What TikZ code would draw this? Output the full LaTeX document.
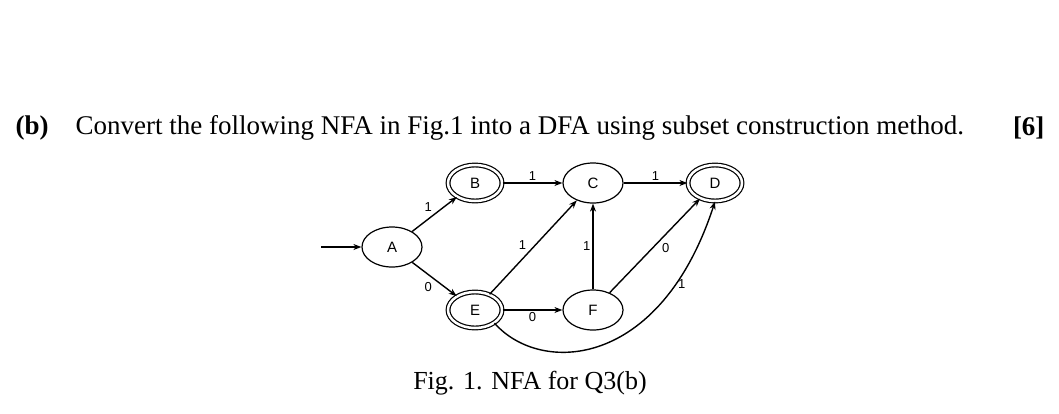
\documentclass[tikz,border=0pt]{standalone}
\usepackage{fontspec}
\setmainfont{Liberation Serif}
\newfontfamily\nodefont{Liberation Sans}
\usetikzlibrary{shapes.geometric,arrows.meta}
\begin{document}
\begin{tikzpicture}[x=1pt,y=-1pt,
  st/.style={ellipse,draw,line width=1.2pt,minimum width=60pt,minimum height=40pt,inner sep=0pt,font=\nodefont\fontsize{15}{15}\selectfont},
  acc/.style={st,double,double distance=2.5pt,minimum width=54pt,minimum height=36pt},
  tr/.style={-{Stealth[length=8pt,width=6pt]},line width=1.4pt},
  lb/.style={font=\nodefont\fontsize{13}{13}\selectfont,inner sep=2pt}]
\useasboundingbox (0,0) rectangle (1059,413);
\node[anchor=west,font=\bfseries\fontsize{27}{27}\selectfont] (b) at (12,128) {(b)};
\node[anchor=west,font=\fontsize{27}{27}\selectfont] (title) at (72,128) {Convert the following NFA in Fig.1 into a DFA using subset construction method.};
\node[anchor=east,font=\bfseries\fontsize{27}{27}\selectfont] (mark) at (1048,128) {[6]};
\node[st] (A) at (392,247) {A};
\node[acc] (B) at (475,183) {B};
\node[st] (C) at (593,183) {C};
\node[acc] (D) at (715,183) {D};
\node[acc] (E) at (475,310) {E};
\node[st] (F) at (593,310) {F};
\coordinate (s) at (321,247);
\draw[tr] (s) -- (A);
\draw[tr] (A) -- node[lb,above left] {1} (B);
\draw[tr] (A) -- node[lb,below left] {0} (E);
\draw[tr] (B) -- node[lb,above] {1} (C);
\draw[tr] (C) -- node[lb,above] {1} (D);
\draw[tr] (E) -- node[lb,above left,pos=0.45] {1} (C);
\draw[tr] (E) -- node[lb,below] {0} (F);
\draw[tr] (F) -- node[lb,left] {1} (C);
\draw[tr] (F) -- node[lb,below right,pos=0.55] {0} (D);
\draw[tr] (E.south east) .. controls (540,375) and (660,370) .. node[lb,right,pos=0.8] {1} (D.south);
\node[font=\fontsize{26}{26}\selectfont] (cap) at (530,383) {Fig. 1. NFA for Q3(b)};
\end{tikzpicture}
\end{document}
